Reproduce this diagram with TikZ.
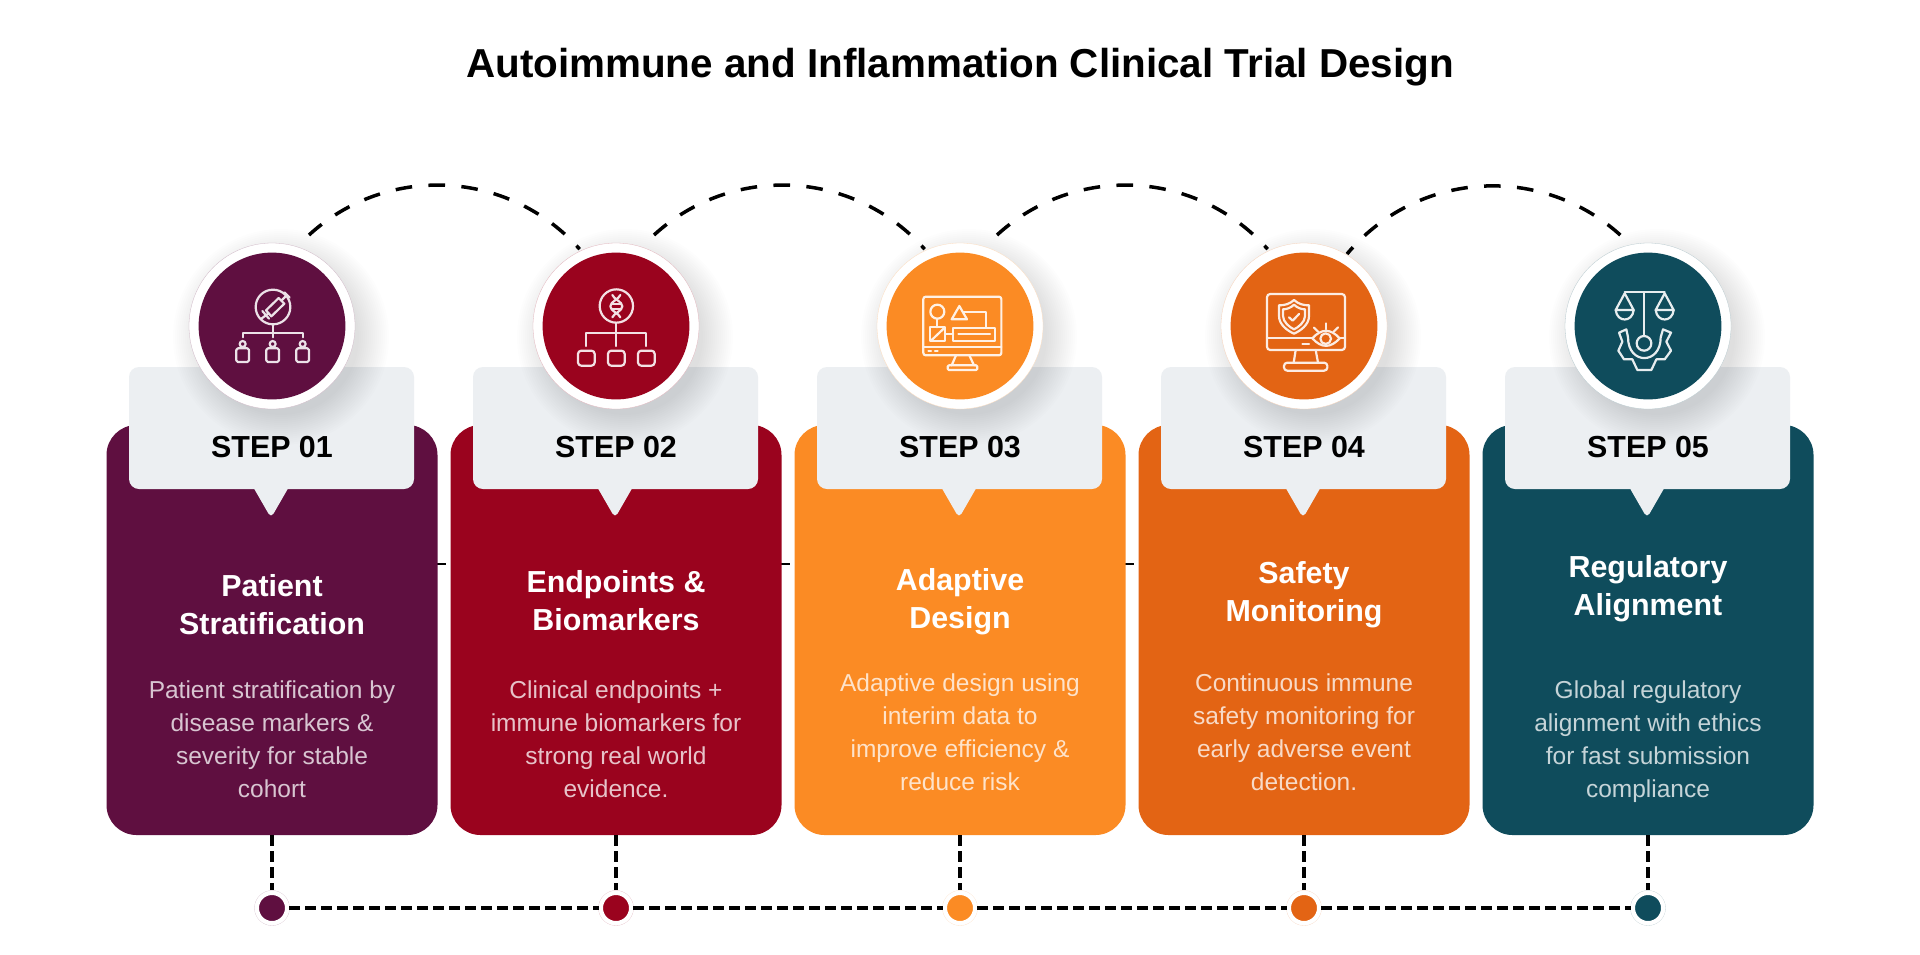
\documentclass[tikz,border=0pt]{standalone}
\usepackage{fontspec}
\setmainfont{Liberation Sans}
\definecolor{cA}{HTML}{5F0F40}
\definecolor{cB}{HTML}{9A031E}
\definecolor{cC}{HTML}{FB8B24}
\definecolor{cD}{HTML}{E36414}
\definecolor{cE}{HTML}{0F4C5C}
\definecolor{calloutgrey}{HTML}{ECEFF2}
\tikzset{
  card/.style={fill=#1,rounded corners=15pt,minimum width=165.5pt,minimum height=205pt,inner sep=0pt},
  callout/.style={fill=calloutgrey,rounded corners=5pt,minimum width=142.5pt,minimum height=61pt,inner sep=0pt},
  ringnode/.style={circle,fill=white,draw=#1!30,line width=.15pt,minimum size=83pt,inner sep=0pt},
  discnode/.style={circle,fill=#1,minimum size=73.4pt,inner sep=0pt},
  dotnode/.style={circle,fill=#1,draw=white,line width=2pt,minimum size=15pt,inner sep=0pt},
  dothalo/.style={circle,fill=white,draw=#1!25,line width=.15pt,minimum size=17.5pt,inner sep=0pt},
  steptext/.style={font=\bfseries\fontsize{15.2}{19}\selectfont,text=black},
  headtext/.style={font=\bfseries\fontsize{15.2}{19}\selectfont,text=white,align=center},
  bodytext/.style={font=\fontsize{12.25}{16.5}\selectfont,text=white!76!#1,align=center},
  arcdash/.style={draw=black,line width=1.75pt,dash pattern=on 8.3pt off 8.2pt},
  linkdash/.style={draw=black,line width=2.1pt,dash pattern=on 5.5pt off 2.5pt},
  tick/.style={draw=black,line width=1.1pt},
  icon/.style={draw=#1,line width=1.1pt,line join=round,line cap=round},
}
\newcommand{\iconscope}[3]{%
  \begin{scope}[shift={(#1,-326)},x=.16667pt,y=-.16667pt,shift={(#2,#3)}]}
\newcommand{\stepcard}[7]{%
  % #1 index, #2 x, #3 colour, #4 heading, #5 heading y, #6 body, #7 body y
  \node[card=#3] (card#1) at (#2,-630) {};
  \fill[calloutgrey,rounded corners=2.5pt] (#2-20,-485) -- (#2-1,-518) -- (#2+18,-485) -- cycle;
  \node[callout] (call#1) at (#2-.5,-428) {};
  \node[steptext] (step#1) at (#2,-447) {STEP 0#1};
  \node[headtext] (head#1) at (#2,-#5) {#4};
  \node[bodytext=#3] (body#1) at (#2,-#7) {#6};
  \foreach \r in {78,80,...,108}{\fill[black,opacity=.009] (#2+9,-337) circle (\r);}
  \node[ringnode=#3] (ring#1) at (#2,-326) {};
  \node[discnode=#3] (disc#1) at (#2,-326) {};
  \node[dothalo=#3] (halo#1) at (#2,-908) {};
  \node[dotnode=#3] (dot#1) at (#2,-908) {};
}
\begin{document}
\begin{tikzpicture}[x=.5pt,y=.5pt]
\useasboundingbox (0,0) rectangle (1920,-954);
\fill[white] (0,0) rectangle (1920,-954);
\node[font=\bfseries\fontsize{20.2}{24}\selectfont] (title) at (960,-67) {Autoimmune and Inflammation Clinical Trial Design};
% arcs (behind the circles)
\coordinate (arcA) at (309,-235);
\coordinate (arcB) at (654,-235);
\coordinate (arcC) at (997,-235);
\coordinate (arcD) at (1347,-254);
\draw[arcdash] (arcA) arc[start angle=132.5,end angle=41.5,radius=190];
\draw[arcdash] (arcB) arc[start angle=132.5,end angle=41.5,radius=190];
\draw[arcdash] (arcC) arc[start angle=132.5,end angle=41.5,radius=190];
\draw[arcdash,dash phase=3.8pt] (arcD) arc[start angle=140.1,end angle=47.6,radius=190];
% ticks of the line that runs behind the cards
\coordinate (tickA) at (437,-564);\coordinate (tickAe) at (446,-564);
\coordinate (tickB) at (781,-564);\coordinate (tickBe) at (790,-564);
\coordinate (tickC) at (1125,-564);\coordinate (tickCe) at (1134,-564);
\draw[tick] (tickA)--(tickAe);
\draw[tick] (tickB)--(tickBe);
\draw[tick] (tickC)--(tickCe);

\stepcard{1}{272}{cA}{Patient\\Stratification}{605}{Patient stratification by\\disease markers \&\\severity for stable\\cohort}{739}
\stepcard{2}{616}{cB}{Endpoints \&\\Biomarkers}{601}{Clinical endpoints +\\immune biomarkers for\\strong real world\\evidence.}{739}
\stepcard{3}{960}{cC}{Adaptive\\Design}{602}{Adaptive design using\\interim data to\\improve efficiency \&\\reduce risk}{732}
\stepcard{4}{1304}{cD}{Safety\\Monitoring}{595}{Continuous immune\\safety monitoring for\\early adverse event\\detection.}{732}
\stepcard{5}{1648}{cE}{Regulatory\\Alignment}{589}{Global regulatory\\alignment with ethics\\for fast submission\\compliance}{741.5}

% connectors below the cards
\foreach \i in {1,...,5}{\draw[linkdash] (card\i.south -| dot\i) -- (halo\i.north);}
\draw[linkdash] (dot1)--(dot2);
\draw[linkdash] (dot2)--(dot3);
\draw[linkdash] (dot3)--(dot4);
\draw[linkdash] (dot4)--(dot5);
\foreach \i/\c in {1/cA,2/cB,3/cC,4/cD,5/cE}{\node[dotnode=\c] at (dot\i) {};}

% ---- icon 1
\iconscope{272}{-545}{-469}
\begin{scope}[icon=white!88!cA]
\draw (548,412) circle (52);
\draw (527,422) -- (565,385) -- (582,402) -- (543,440) -- cycle;
\draw (573,393) -- (590,376);\draw (582,368)--(598,384);
\draw (535,431) -- (513,447);\draw (516,424)--(536,447);
\draw (457,503)--(457,490)--(637,490)--(637,503);
\draw (547,465)--(547,503);
\foreach \x in {457,547,637}{
 \draw (\x,523) circle (9);
 \draw[rounded corners=.8pt] (\x-19,577) rectangle (\x+19,536);
}
\end{scope}
\end{scope}
% ---- icon 2
\iconscope{616}{-347}{-288}
\begin{scope}[icon=white!88!cB]
\draw (348,228) circle (50);
\draw (336,195) .. controls (340,207) and (366,215) .. (366,229) .. controls (366,243) and (340,250) .. (336,262);
\draw (360,195) .. controls (356,207) and (330,215) .. (330,229) .. controls (330,243) and (356,250) .. (360,262);
\draw (335,222)--(361,222);\draw (335,236)--(361,236);
\draw (348,278)--(348,348);
\draw (258,348)--(258,310)--(438,310)--(438,348);
\foreach \x in {233,323,413}{\draw[rounded corners=1.6pt] (\x,362) rectangle (\x+50,407);}
\end{scope}
\end{scope}
% ---- icon 3
\iconscope{960}{-330}{-288}
\begin{scope}[icon=white!88!cC]
\draw[rounded corners=1.2pt] (220,200) rectangle (454,376);
\draw (220,352)--(454,352);
\draw (235,364)--(243,364);\draw (255,364)--(263,364);
\draw (318,376)--(305,406);\draw (358,376)--(372,406);
\draw[rounded corners=.6pt] (293,406) rectangle (382,420);
\draw (262,245) circle (21);
\draw (262,266)--(262,292);
\draw (241,292) rectangle (285,334);
\draw (243,332)--(283,294);
\draw (285,313)--(310,313);
\draw (310,293) rectangle (436,334);
\draw (325,313)--(420,313);
\draw (305,268)--(328,228)--(351,268)--cycle;
\draw (340,246)--(408,246)--(408,293);
\end{scope}
\end{scope}
% ---- icon 4
\iconscope{1304}{-343}{-288}
\begin{scope}[icon=white!88!cD]
\draw[rounded corners=1.6pt] (232,192) rectangle (466,360);
\draw (232,325)--(466,325);
\draw (338,342)--(358,342);
\draw (318,360)--(312,398);\draw (378,360)--(385,398);
\draw[rounded corners=1.6pt] (283,398) rectangle (413,422);
\draw (313,210) .. controls (300,222) and (285,226) .. (268,226) -- (268,258) .. controls (268,285) and (295,303) .. (313,311) .. controls (331,303) and (358,285) .. (358,258) -- (358,226) .. controls (341,226) and (326,222) .. (313,210) -- cycle;
\draw (313,224) .. controls (303,234) and (290,238) .. (280,238) -- (280,258) .. controls (280,276) and (300,292) .. (313,298) .. controls (326,292) and (346,276) .. (346,258) -- (346,238) .. controls (336,238) and (323,234) .. (313,224) -- cycle;
\draw (298,262)--(309,272)--(328,252);
\draw[fill=cD] (368,325) .. controls (395,295) and (423,295) .. (450,325) .. controls (423,355) and (395,355) .. (368,325) -- cycle;
\draw (408,326) circle (16);
\draw (408,298)--(408,280);\draw (385,305)--(373,293);\draw (432,305)--(445,292);
\end{scope}
\end{scope}
% ---- icon 5
\iconscope{1648}{-355}{-288}
\begin{scope}[icon=white!90!cE]
\draw (285,187)--(405,187);
\draw (343,187)--(343,318);
\draw (285,190)--(258,240)--(312,240)--cycle;
\draw (258,240) .. controls (262,278) and (308,278) .. (312,240);
\draw (405,190)--(378,240)--(432,240)--cycle;
\draw (378,240) .. controls (382,278) and (428,278) .. (432,240);
\draw (343,340) circle (22);
\draw (295,322) -- (290,298) -- (268,308) -- (278,335) -- (266,362) -- (283,388) -- (308,388) -- (323,420) -- (365,420) -- (380,388) -- (405,388) -- (424,362) -- (410,335) -- (424,308) -- (400,298) -- (393,322) .. controls (393,405) and (295,405) .. (295,322) -- cycle;
\end{scope}
\end{scope}
\end{tikzpicture}
\end{document}
